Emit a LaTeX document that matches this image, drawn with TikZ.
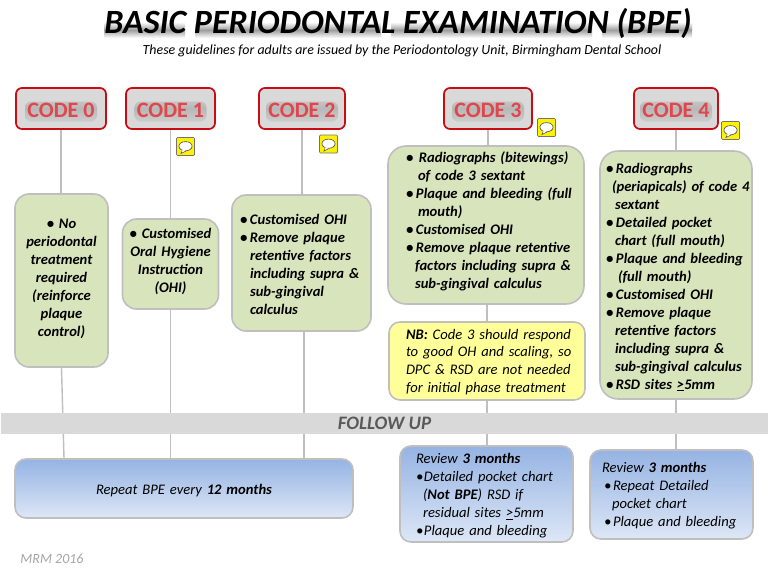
\documentclass[tikz,border=0pt]{standalone}
\usepackage{fontspec}
\setmainfont{Carlito}
\usetikzlibrary{calc}
\definecolor{codered}{HTML}{C80C14}
\definecolor{codetext}{HTML}{E0474C}
\definecolor{panelgreen}{HTML}{D8E4BC}
\definecolor{edgegrey}{HTML}{BFBFBF}
\definecolor{notey}{HTML}{FFFF99}
\definecolor{bluetop}{HTML}{95B3E3}
\definecolor{bluebot}{HTML}{DDE7F6}
\definecolor{bandgrey}{HTML}{D9D9D9}
\newcommand{\bl}{\makebox[10pt][l]{•}}
\newcommand{\bs}{\makebox[9pt][l]{•}}
\newcommand{\ind}[1]{\hspace*{#1pt}}
\newcommand{\tl}[1]{\mbox{#1}}
\newcommand{\downby}[1]{\vskip #1pt\relax}
\tikzset{
  x=1pt,y=-1pt,
  codebox/.style={draw=codered,line width=1.7pt,fill=bandgrey,rounded corners=6pt,inner sep=0pt,
    text=codetext,font=\fontsize{22}{26}\selectfont\bfseries,minimum height=41pt,
    text height=17pt,text depth=0pt,
    path picture={\shade[top color=bandgrey,bottom color=bandgrey,middle color=black!28]
      ([xshift=-36pt,yshift=7pt]path picture bounding box.center) rectangle ([xshift=36pt,yshift=-13pt]path picture bounding box.center);}},
  panel/.style={draw=edgegrey,line width=1.6pt,fill=panelgreen,rounded corners=14pt,inner ysep=0pt,
    font=\fontsize{14.6}{17.95}\selectfont\bfseries\itshape,align=left},
  notebox/.style={panel,fill=notey,rounded corners=11pt,font=\fontsize{14.6}{17.8}\selectfont\itshape},
  bluebox/.style={draw=edgegrey,line width=1.6pt,top color=bluetop,bottom color=bluebot,rounded corners=11pt,inner ysep=0pt,
    font=\fontsize{14.6}{18}\selectfont\itshape,align=left},
  link/.style={draw=edgegrey,line width=1.4pt},
  iconbox/.style={draw=black!55,line width=0.7pt,fill=yellow,rounded corners=1pt,minimum size=18pt,inner sep=0pt},
  bubble/.style={draw=black!70,line width=0.6pt,fill=white},
  smear/.style={top color=white,bottom color=white,middle color=black!38},
}
\newcommand{\speechicon}[3]{%
  \node[iconbox] (#1) at (#2,#3) {};
  \draw[bubble] ($(#1.center)+(-3,3.5)$) -- ($(#1.center)+(-4.5,7)$) -- ($(#1.center)+(0.5,4.5)$);
  \fill[white] (#1.center) ++(0,-0.3) ellipse[x radius=6.6,y radius=4.6];
  \draw[bubble] (#1.center) ++(0,-0.3) ellipse[x radius=6.6,y radius=4.6];
  \fill[white] ($(#1.center)+(-2.8,3.2)$) -- ($(#1.center)+(-3.9,5.8)$) -- ($(#1.center)+(0.2,3.8)$) -- cycle;
}
\begin{document}
\begin{tikzpicture}
\useasboundingbox (0,0) rectangle (768,576);
\fill[white] (0,0) rectangle (768,576);
\shade[smear] (104,22) rectangle (185,38);
\shade[smear] (195,22) rectangle (381,38);
\shade[smear] (391,22) rectangle (592,38);
\shade[smear] (602,22) rectangle (692,38);
\node[inner sep=0pt,font=\fontsize{34}{36}\selectfont\bfseries\itshape] (title) at (398,23)
  {BASIC PERIODONTAL EXAMINATION (BPE)};
\node[inner sep=0pt,font=\fontsize{13.9}{16}\selectfont\itshape] (subtitle) at (402,50.5)
  {These guidelines for adults are issued by the Periodontology Unit, Birmingham Dental School};
% code headers
\node[codebox,minimum width=90pt] (c0) at (61,108.5) {CODE 0};
\node[codebox,minimum width=89pt] (c1) at (170.5,108.5) {CODE 1};
\node[codebox,minimum width=86pt] (c2) at (302,108.5) {CODE 2};
\node[codebox,minimum width=88pt] (c3) at (488,108.5) {CODE 3};
\node[codebox,minimum width=84pt] (c4) at (676,108.5) {CODE 4};
% panels
\node[panel,minimum height=173pt,text width=83pt,inner xsep=5pt,align=center] (p0) at (61.5,280.5)
  {\downby{-12}\tl{• No}\\\tl{periodontal}\\\tl{treatment}\\\tl{required}\\\tl{(reinforce}\\\tl{plaque}\\\tl{control)}};
\node[panel,minimum height=90pt,text width=90pt,inner xsep=3pt,align=center] (p1) at (170.5,264)
  {\downby{-12}\tl{• Customised}\\\tl{Oral Hygiene}\\\tl{Instruction}\\\tl{(OHI)}};
\node[panel,minimum height=136pt,text width=123pt,inner xsep=8pt] (p2) at (301.5,263)
  {\downby{-5}\tl{\bl Customised OHI}\\\tl{\bl Remove plaque}\\\tl{\ind{10}retentive factors}\\\tl{\ind{10}including supra \&}\\\tl{\ind{10}sub-gingival}\\\tl{\ind{10}calculus}};
\node[panel,minimum height=158pt,text width=160pt,inner xsep=18pt,rounded corners=18pt] (p3) at (486,225)
  {\downby{-15}\tl{\bl\ind{3}Radiographs (bitewings)}\\\tl{\ind{12}of code 3 sextant}\\\tl{\bl Plaque and bleeding (full}\\\tl{\ind{12}mouth)}\\\tl{\bl Customised OHI}\\\tl{\bl Remove plaque retentive}\\\tl{\ind{9}factors including supra \&}\\\tl{\ind{9}sub-gingival calculus}};
\node[panel,minimum height=248pt,text width=140pt,inner xsep=6pt,rounded corners=18pt] (p4) at (676,275)
  {\downby{-3}\tl{\bl Radiographs}\\\tl{\ind{6}(periapicals) of code 4}\\\tl{\ind{9}sextant}\\\tl{\bl Detailed pocket}\\\tl{\ind{9}chart (full mouth)}\\\tl{\bl Plaque and bleeding}\\\tl{\ind{12}(full mouth)}\\\tl{\bl Customised OHI}\\\tl{\bl Remove plaque}\\\tl{\ind{9}retentive factors}\\\tl{\ind{9}including supra \&}\\\tl{\ind{9}sub-gingival calculus}\\\tl{\bl RSD sites \underline{>}5mm}};
\node[notebox,minimum height=78pt,text width=168pt,inner xsep=14pt] (note) at (487,361)
  {\downby{-6}\tl{\ind{3}\textbf{NB:} Code 3 should respond}\\\tl{\ind{3}to good OH and scaling, so}\\\tl{\ind{3}DPC \& RSD are not needed}\\\tl{\ind{3}for initial phase treatment}};
% follow-up boxes
\node[bluebox,text width=300pt,inner xsep=19pt,minimum height=59pt,align=center] (b0) at (184,488.5)
  {\downby{-4}\tl{Repeat BPE every \textbf{12 months}}};
\node[bluebox,minimum height=96pt,text width=141pt,inner xsep=16pt] (b3) at (486.5,494)
  {\downby{-4}\tl{Review \textbf{3 months}}\\\tl{\makebox[8pt][l]{•}Detailed pocket chart}\\\tl{\ind{7}(\textbf{Not BPE}) RSD if}\\\tl{\ind{7}residual sites \underline{>}5mm}\\\tl{\makebox[8pt][l]{•}Plaque and bleeding}};
\node[bluebox,minimum height=89pt,text width=139pt,inner xsep=12pt] (b4) at (671.5,494.5)
  {\downby{-6}\tl{Review \textbf{3 months}}\\\tl{\ind{2}\bs Repeat Detailed}\\\tl{\ind{10}pocket chart}\\\tl{\ind{2}\bs Plaque and bleeding}};
\node[inner sep=0pt,text=black!35,font=\fontsize{14}{16}\selectfont\itshape] (credit) at (52,558.5) {MRM 2016};
% connectors
\draw[link] (c0.south) -- (c0.south |- p0.north);
\draw[link] (c1.south) -- (c1.south |- p1.north);
\draw[link] (c2.south) -- (c2.south |- p2.north);
\draw[link] (c3.south) -- (c3.south |- p3.north);
\draw[link] (c4.south) -- (c4.south |- p4.north);
\draw[link] (p0.south) -- ([xshift=-120pt]b0.north);
\draw[link] (p1.south) -- (p1.south |- b0.north);
\draw[link] ([xshift=2.5pt]p2.south) -- ([xshift=120pt]b0.north);
\draw[link] ([xshift=1pt]p3.south) -- ([xshift=1pt]p3.south |- note.north);
\draw[link] (note.south) -- (note.south |- b3.north);
\draw[link] (p4.south) -- (p4.south |- b4.north);
% band
\node[fill=bandgrey,inner sep=0pt,minimum width=767pt,minimum height=21pt,text=black!65,
  font=\fontsize{19}{21}\selectfont\bfseries\itshape] (band) at (384.5,423.5) {FOLLOW UP};
% speech icons
\speechicon{i1}{185.5}{146.5}
\speechicon{i2}{328.5}{144}
\speechicon{i3}{546.5}{127.5}
\speechicon{i4}{730.5}{130.5}
\end{tikzpicture}
\end{document}
